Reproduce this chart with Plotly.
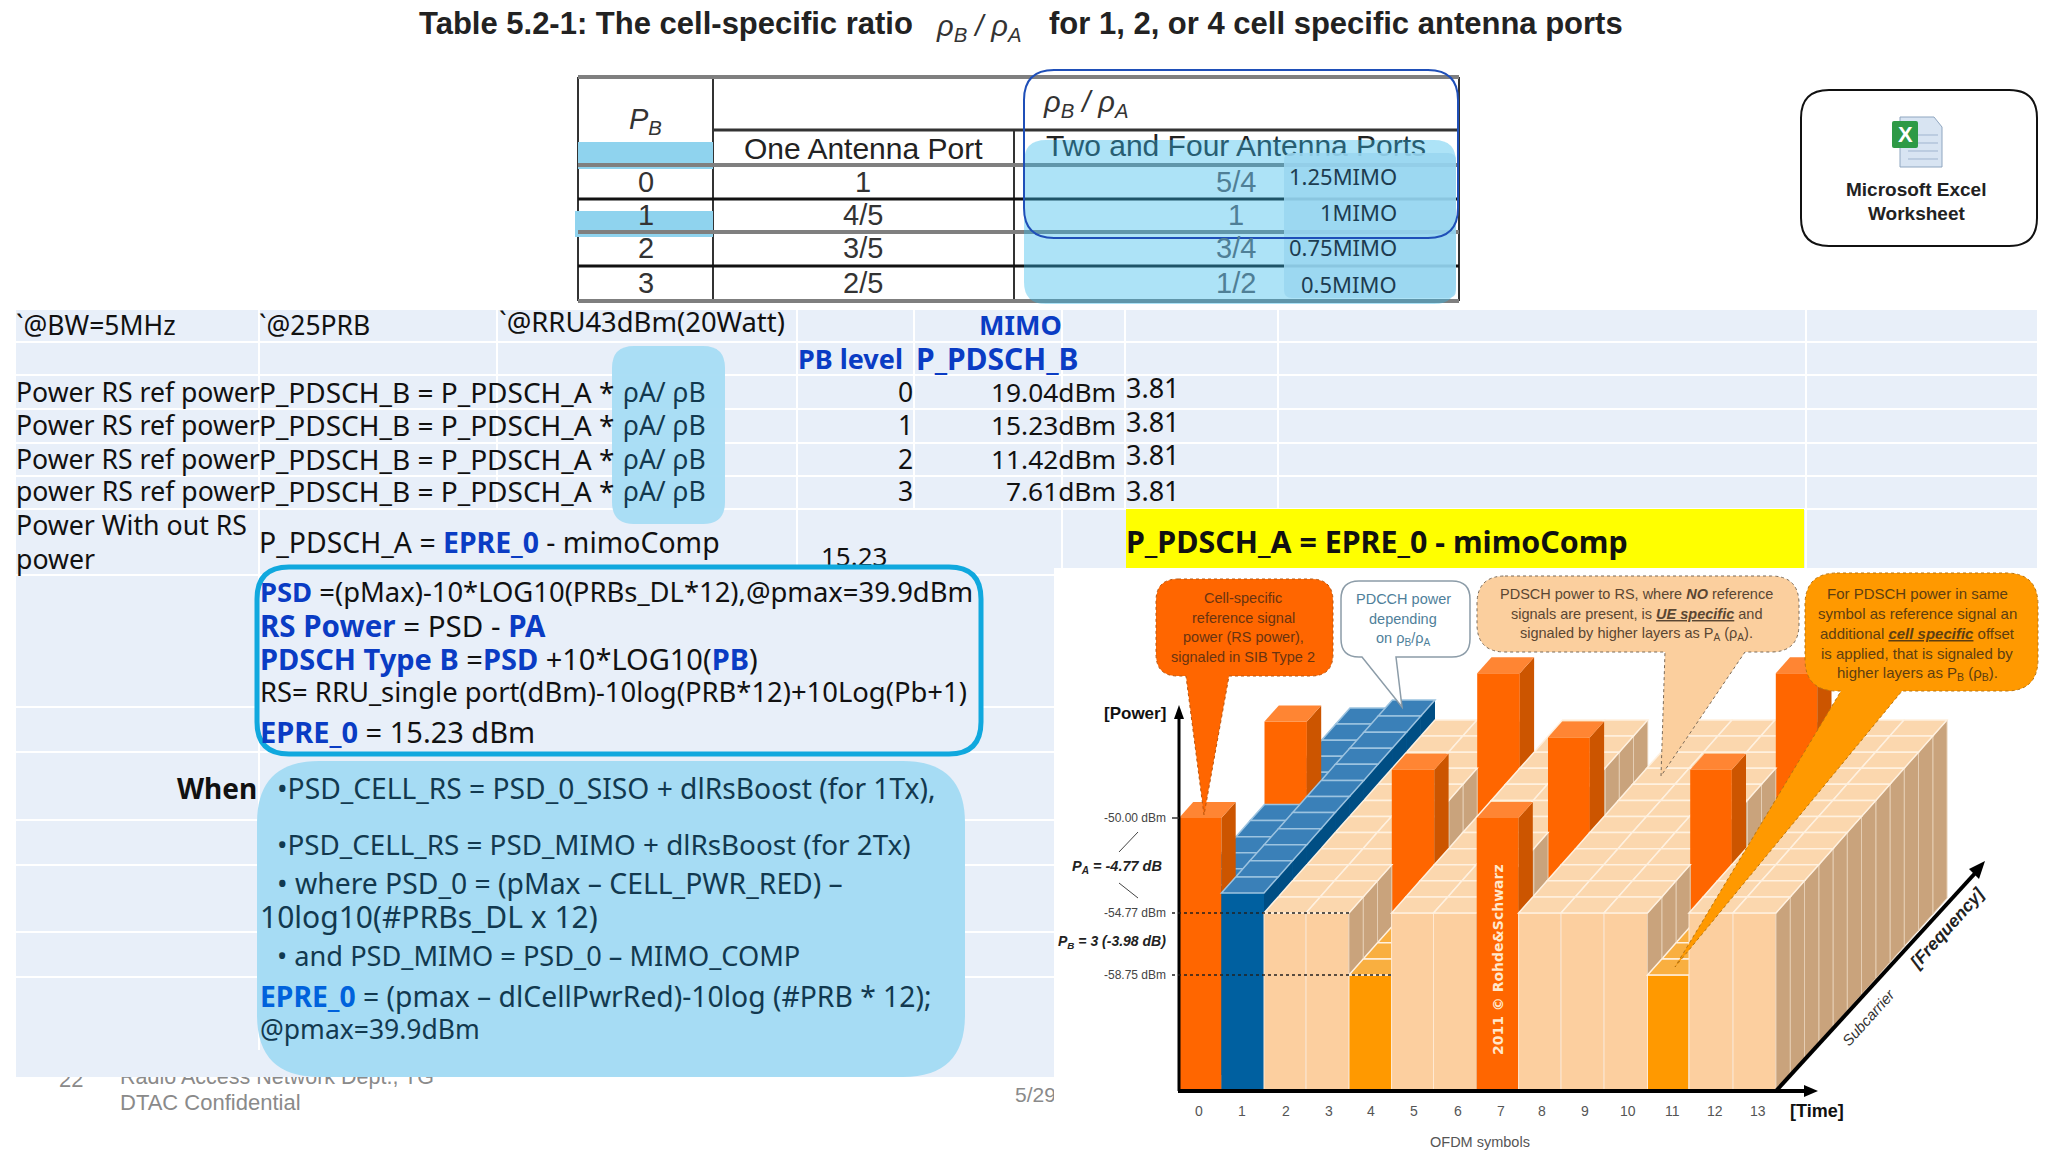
import plotly.graph_objects as go

# ---------- data ----------
symbol_labels = ["0","1","2","3","4","5","6","7","8","9","10","11","12","13"]
column_edges = [1179,1221.4,1264,1306,1349,1391.6,1433.5,1476.7,1518.6,1561,1604,1647.5,1689,1733,1776]
tick_x = [1199,1242,1286,1329,1371,1414,1458,1501,1542,1585,1628,1672,1715,1758]
subcarriers = 12
rs_cells = {0:[0,6],4:[3,9],7:[0,5],11:[3,9]}
pb_symbols = [4,7,11]
blue_symbols = {0:190,1:198}
height_pa = 178
height_rs = 273
height_pb = 116

pb_levels = ["0","1","2","3"]
ratio_one = ["1","4/5","3/5","2/5"]
ratio_two = ["5/4","1","3/4","1/2"]
mimo_labels = ["1.25MIMO","1MIMO","0.75MIMO","0.5MIMO"]
row_names = ["Power RS ref power","Power RS ref power","Power RS ref power","power RS ref power"]
pdsch_b = ["19.04dBm","15.23dBm","11.42dBm","7.61dBm"]
delta = ["3.81","3.81","3.81","3.81"]

BG="#E8EFF9"; SKY="#A6DCF4"; INK="#12394f"; BLUE="#0A3CC4"; BRIGHT="#0062DC"
TAH="Noto Sans"; ARI="Liberation Sans"

colors = {"rs":("#FF6600","#FF8533","#CC5500"),
          "blue":("#0060A0","#3A80B8","#004E84"),
          "pa":("#FCCF9F","#FBD7AE","#C9A37C"),
          "pb":("#FF9900","#F9AF40","#C9A37C")}

shapes=[]; annos=[]; under=[]

def poly(pts,fill,line=None,w=1,layer="above",op=None,dash=None):
    p="M"+" L".join(f"{x:.1f},{y:.1f}" for x,y in pts)+" Z"
    s=dict(type="path",xref="x",yref="y",path=p,fillcolor=fill,layer=layer,
           line=dict(color=line or "rgba(0,0,0,0)",width=w if line else 0))
    if dash: s["line"]["dash"]=dash
    if op is not None: s["opacity"]=op
    shapes.append(s)

def rrect_path(x0,y0,x1,y1,r,tail=None):
    p=f"M{x0+r},{y0} L{x1-r},{y0} Q{x1},{y0} {x1},{y0+r} L{x1},{y1-r} Q{x1},{y1} {x1-r},{y1} "
    if tail:
        a,b,tx,ty=tail
        p+=f"L{b},{y1} L{tx},{ty} L{a},{y1} "
    p+=f"L{x0+r},{y1} Q{x0},{y1} {x0},{y1-r} L{x0},{y0+r} Q{x0},{y0} {x0+r},{y0} Z"
    return p

def rrect(x0,y0,x1,y1,r,fill,line=None,w=0,layer="above",op=None,tail=None,dash=None):
    s=dict(type="path",xref="x",yref="y",path=rrect_path(x0,y0,x1,y1,r,tail),fillcolor=fill,layer=layer,
           line=dict(color=line or "rgba(0,0,0,0)",width=w))
    if dash: s["line"]["dash"]=dash
    if op is not None: s["opacity"]=op
    shapes.append(s)

def rect(x0,y0,x1,y1,fill,layer="below"):
    shapes.append(dict(type="rect",xref="x",yref="y",x0=x0,x1=x1,y0=y0,y1=y1,fillcolor=fill,layer=layer,line=dict(width=0)))

def line(x0,y0,x1,y1,color,w=1,layer="above",dash=None):
    l=dict(color=color,width=w)
    if dash: l["dash"]=dash
    shapes.append(dict(type="line",xref="x",yref="y",x0=x0,x1=x1,y0=y0,y1=y1,line=l,layer=layer))

def txt(x,y,t,size=27,color="#111",font=TAH,anchor="left",angle=0):
    if font==TAH:
        y-=1.5
        if anchor=="left": x-=2
    annos.append(dict(x=x,y=y,xref="x",yref="y",text=t,showarrow=False,xanchor=anchor,yanchor="middle",
                      font=dict(size=size,color=color,family=font),textangle=angle,align="center"))

def utxt(x,y,t,size=24,color="#111",font=TAH,pos="middle right"):
    under.append(go.Scatter(x=[x],y=[y],mode="text",text=[t],textposition=pos,hoverinfo="skip",showlegend=False,
                            textfont=dict(size=size,color=color,family=font)))

# ---------- lower table background ----------
rect(16,310,2037,1077,BG)
for y in [342,375,409,443,476,509,575,707,752,820,865,932,977]:
    line(16,y,2037,y,"#FFFFFF",2,"below")
for x,y1 in [(259,1077),(497,509),(797,568),(914,509),(1125,509),(1278,509),(1806,568),(1062,568)]:
    line(x,310,x,y1,"#FFFFFF",2,"below")
rect(1126,509,1804,568,"#FFFF00")
rect(1054,568,2048,1152,"#FFFFFF")

# ---------- text under overlays ----------
utxt(821,559,"15.23",26,"#111",TAH)
utxt(59,1081,"22",22,"#8a8a8a",ARI)
utxt(120,1079,"Radio Access Network Dept., TG",21.5,"#8a8a8a",ARI)
utxt(1015,1097,"5/29",21,"#8a8a8a",ARI)
utxt(1236,148,"Two and Four Antenna Ports",30,"#222",ARI,"middle center")
rect(16,1050,1054,1077,BG,"above")
rect(1054,1080,1060,1110,"#FFFFFF","above")

# ---------- top table ----------
line(578,77,578,301,"#333333",2)
line(713,77,713,301,"#333333",2)
line(1014,130,1014,301,"#333333",2)
line(1459,77,1459,301,"#333333",2)
rect(578,142,713,169,"#8FD3EE","above")
rect(575,211,713,237,"#8FD3EE","above")
for y,c,w,x0 in [(77,"#7f7f7f",4,578),(130,"#333",3,713),(165,"#7f7f7f",4,578),(199,"#111",3,578),
                 (232,"#7f7f7f",4,578),(266,"#111",3,578),(301,"#7f7f7f",4,578)]:
    line(x0,y,1459,y,c,w)
rrect(1024,140,1456,304,22,"#32B9EB",op=0.4)
rrect(1284,153,1456,298,8,"#9AD6F0",op=0.88)
rrect(1024,70,1458,238,30,"rgba(0,0,0,0)","#1F4FB8",2)

txt(417,23,"<b>Table 5.2-1: The cell-specific ratio</b>",31,"#222",ARI)
txt(978,28,"<i>ρ<sub>B</sub> / ρ<sub>A</sub></i>",29,"#333",ARI,"center")
txt(1047,23,"<b>for 1, 2, or 4 cell specific antenna ports</b>",31,"#222",ARI)
txt(1085,104,"<i>ρ<sub>B</sub> / ρ<sub>A</sub></i>",29,"#333",ARI,"center")
txt(645,121,"<i>P<sub>B</sub></i>",29,"#333",ARI,"center")
txt(863,148,"One Antenna Port",30,"#222",ARI,"center")
row_y=[182,215,248,283]
mimo_y=[177,213,248,285]
for i in range(4):
    txt(646,row_y[i],pb_levels[i],29,"#333",ARI,"center")
    txt(863,row_y[i],ratio_one[i],29,"#333",ARI,"center")
    txt(1236,row_y[i],ratio_two[i],29,"#4f7f96",ARI,"center")
    txt(1399,mimo_y[i],mimo_labels[i],22,"#1c3c50",TAH,"right")

# ---------- excel object ----------
rrect(1801,90,2037,246,28,"#FFFFFF","#111",2)
poly([(1900,117),(1934,117),(1942,127),(1942,167),(1900,167)],"#D8E4F2","#8FA6C0",1)
for yy in [135,143,151,159]:
    line(1908,yy,1938,yy,"#9FB4CF",1)
rrect(1892,121,1918,148,2,"#2E9A46")
txt(1905,134.5,"<b>X</b>",22,"#FFFFFF",ARI,"center")
txt(1916,189,"<b>Microsoft Excel</b>",19,"#222",ARI,"center")
txt(1916,213,"<b>Worksheet</b>",19,"#222",ARI,"center")

# ---------- lower table texts ----------
rrect(612,346,725,524,22,SKY,op=0.95)
txt(16,326,"`@BW=5MHz",26.5); txt(259,326,"`@25PRB",26.5); txt(499,323,"`@RRU43dBm(20Watt)",27.4)
txt(1020,326,"<b>MIMO</b>",27,BLUE,TAH,"center")
txt(798,360,"<b>PB level</b>",27,BLUE); txt(916,360,"<b>P_PDSCH_B</b>",30,BLUE)
ys=[393,426,460,492]; ys2=[389,423,456,492]
for i in range(4):
    txt(16,ys[i],row_names[i],26.6)
    txt(259,ys[i],"P_PDSCH_B = P_PDSCH_A *",28)
    txt(623,ys[i],"ρA/ ρB",26.5,INK)
    txt(915,ys[i],pb_levels[i],26.5,"#111",TAH,"right")
    txt(1118,ys[i],pdsch_b[i],26.3,"#111",TAH,"right")
    txt(1126,ys2[i],delta[i],27)
txt(16,526,"Power With out RS",26.7); txt(16,560,"power",26.7)
txt(259,543,f'P_PDSCH_A = <b><span style="color:{BLUE}">EPRE_0</span></b> - mimoComp',28.4)
txt(1126,543,"<b>P_PDSCH_A = EPRE_0 - mimoComp</b>",30.4,"#111")

rrect(257,567,981,754,32,BG,"#10A8DE",5)
b=lambda s:f'<b><span style="color:{BLUE}">{s}</span></b>'
txt(260,593,b("PSD")+" =(pMax)-10*LOG10(PRBs_DL*12),@pmax=39.9dBm",27.4)
txt(260,627,b("RS Power")+" = PSD - "+b("PA"),29.5)
txt(260,660,b("PDSCH Type B")+" ="+b("PSD")+" +10*LOG10("+b("PB")+")",29)
txt(260,693,"RS= RRU_single port(dBm)-10log(PRB*12)+10Log(Pb+1)",27.4)
txt(260,733,b("EPRE_0")+" = 15.23 dBm",29)

rrect(257,761,965,1077,62,SKY)
txt(259,789,"<b>When</b>",28,"#111",TAH,"right")
txt(277,789,"•PSD_CELL_RS = PSD_0_SISO + dlRsBoost (for 1Tx),",28.2,INK)
txt(277,845,"•PSD_CELL_RS = PSD_MIMO + dlRsBoost (for 2Tx)",27.8,INK)
txt(277,884,"• where PSD_0 = (pMax – CELL_PWR_RED) –",28.3,INK)
txt(260,918,"10log10(#PRBs_DL x 12)",30,INK)
txt(277,957,"• and PSD_MIMO = PSD_0 – MIMO_COMP",27.2,INK)
txt(260,997,f'<b><span style="color:{BRIGHT}">EPRE_0</span></b> = (pmax – dlCellPwrRed)-10log (#PRB * 12);',28.3,INK)
txt(260,1030,"@pmax=39.9dBm",26.5,INK)
txt(118,1102,"DTAC Confidential",22,"#8a8a8a",ARI)

# ---------- 3D resource grid ----------
dx=171/subcarriers; dy=193/subcarriers; base=1091
def cell(c,k):
    if c in rs_cells and k in rs_cells[c]: return "rs",height_rs
    if c in blue_symbols: return "blue",blue_symbols[c]
    if c in pb_symbols: return "pb",height_pb
    return "pa",height_pa
for k in range(subcarriers-1,-1,-1):
    for c in range(len(symbol_labels)):
        kind,h=cell(c,k)
        f,t,s=colors[kind]
        x0=column_edges[c]+k*dx; x1=column_edges[c+1]+k*dx
        yb=base-k*dy; yt=yb-h
        edge="#FFE9D2" if kind in("pa","pb") else None
        poly([(x0,yb),(x1,yb),(x1,yt),(x0,yt)],f,edge,1)
        poly([(x1,yb),(x1+dx,yb-dy),(x1+dx,yt-dy),(x1,yt)],s,"#E5CDB3" if kind in("pa","pb") else None,1)
        poly([(x0,yt),(x1,yt),(x1+dx,yt-dy),(x0+dx,yt-dy)],t,"#FFF1E0" if kind in("pa","pb") else "#9CC3E0" if kind=="blue" else None,1.5)

line(1179,1091,1179,712,"#000",3)
poly([(1179,705),(1174,719),(1184,719)],"#000")
line(1178,1091,1808,1091,"#000",4)
poly([(1818,1091),(1804,1085),(1804,1097)],"#000")
line(1776,1091,1978,870,"#000",4)
poly([(1985,861),(1969,869),(1979,879)],"#000")
line(1172,818,1179,818,"#333",1.5)
line(1172,913,1349,913,"#222",1.5,dash="dot")
line(1172,975,1393,975,"#222",1.5,dash="dot")
line(1138,832,1119,852,"#444",1); line(1119,883,1138,898,"#444",1)

for x,l in zip(tick_x,symbol_labels):
    txt(x,1111,l,14,"#555",ARI,"center")
txt(1480,1142,"OFDM symbols",14.5,"#555",ARI,"center")
txt(1788,1111,"<b>[Time]</b>",18,"#111",ARI)
txt(1168,713,"<b>[Power]</b>",17,"#111",ARI,"right")
txt(1168,818,"-50.00 dBm",12,"#444",ARI,"right")
txt(1168,913,"-54.77 dBm",12,"#444",ARI,"right")
txt(1168,975,"-58.75 dBm",12,"#444",ARI,"right")
txt(1164,867,"<b><i>P<sub>A</sub> = -4.77 dB</i></b>",14.5,"#222",ARI,"right")
txt(1168,942,"<b><i>P<sub>B</sub> = 3 (-3.98 dB)</i></b>",14,"#222",ARI,"right")
txt(1947,928,"<b><i>[Frequency]</i></b>",17.5,"#222",ARI,"center",-48)
txt(1868,1017,"<i>Subcarrier</i>",15,"#333",ARI,"center",-48)
txt(1498,960,"<b>2011 © Rohde&amp;Schwarz</b>",14,"#FFE8CC","DejaVu Sans","center",-90)

# ---------- callouts ----------
rrect(1156,579,1333,676,22,"#FF6600","#B8560F",1,tail=(1186,1229,1204,815),dash="dot")
rrect(1341,581,1470,657,18,"#FFFFFF","#8C9CA8",1.5,tail=(1362,1396,1402,707))
rrect(1477,576,1799,652,28,"#FBCF9E","#7A6A58",1,tail=(1665,1745,1661,776),dash="dot")
rrect(1805,573,2038,691,32,"#FF9900","#B87410",1,tail=(1841,1902,1675,967),dash="dot")
for y,t in zip([598,618,637,657],["Cell-specific","reference signal","power (RS power),","signaled in SIB Type 2"]):
    txt(1243,y,t,14.5,"#6A3410",ARI,"center")
for y,t in zip([599,619,639],["PDCCH power","depending","on ρ<sub>B</sub>/ρ<sub>A</sub>"]):
    txt(1403,y,t,14.5,"#4F7F9A",ARI,"center")
for y,t in zip([594,614,634],["PDSCH power to RS, where <b><i>NO</i></b> reference",
                              "signals are present, is <b><i><u>UE specific</u></i></b> and",
                              "signaled by higher layers as P<sub>A</sub> (ρ<sub>A</sub>)."]):
    txt(1636,y,t,14.5,"#5A4632",ARI,"center")
for y,t in zip([593,613,633,653,673],["For PDSCH power in same","symbol as reference signal an",
                                      "additional <b><i><u>cell specific</u></i></b> offset","is applied, that is signaled by",
                                      "higher layers as P<sub>B</sub> (ρ<sub>B</sub>)."]):
    txt(1917,y,t,15,"#5E3E10",ARI,"center")

fig=go.Figure(under)
fig.update_layout(width=2048,height=1152,margin=dict(l=0,r=0,t=0,b=0),paper_bgcolor="#FFFFFF",plot_bgcolor="#FFFFFF",
    xaxis=dict(range=[0,2048],visible=False,fixedrange=True),
    yaxis=dict(range=[1152,0],visible=False,fixedrange=True),
    shapes=shapes,annotations=annos,showlegend=False)
fig.write_html("out.html",config={"displayModeBar":False},
    post_script="document.body.style.margin='0';document.documentElement.style.overflow='hidden';")
